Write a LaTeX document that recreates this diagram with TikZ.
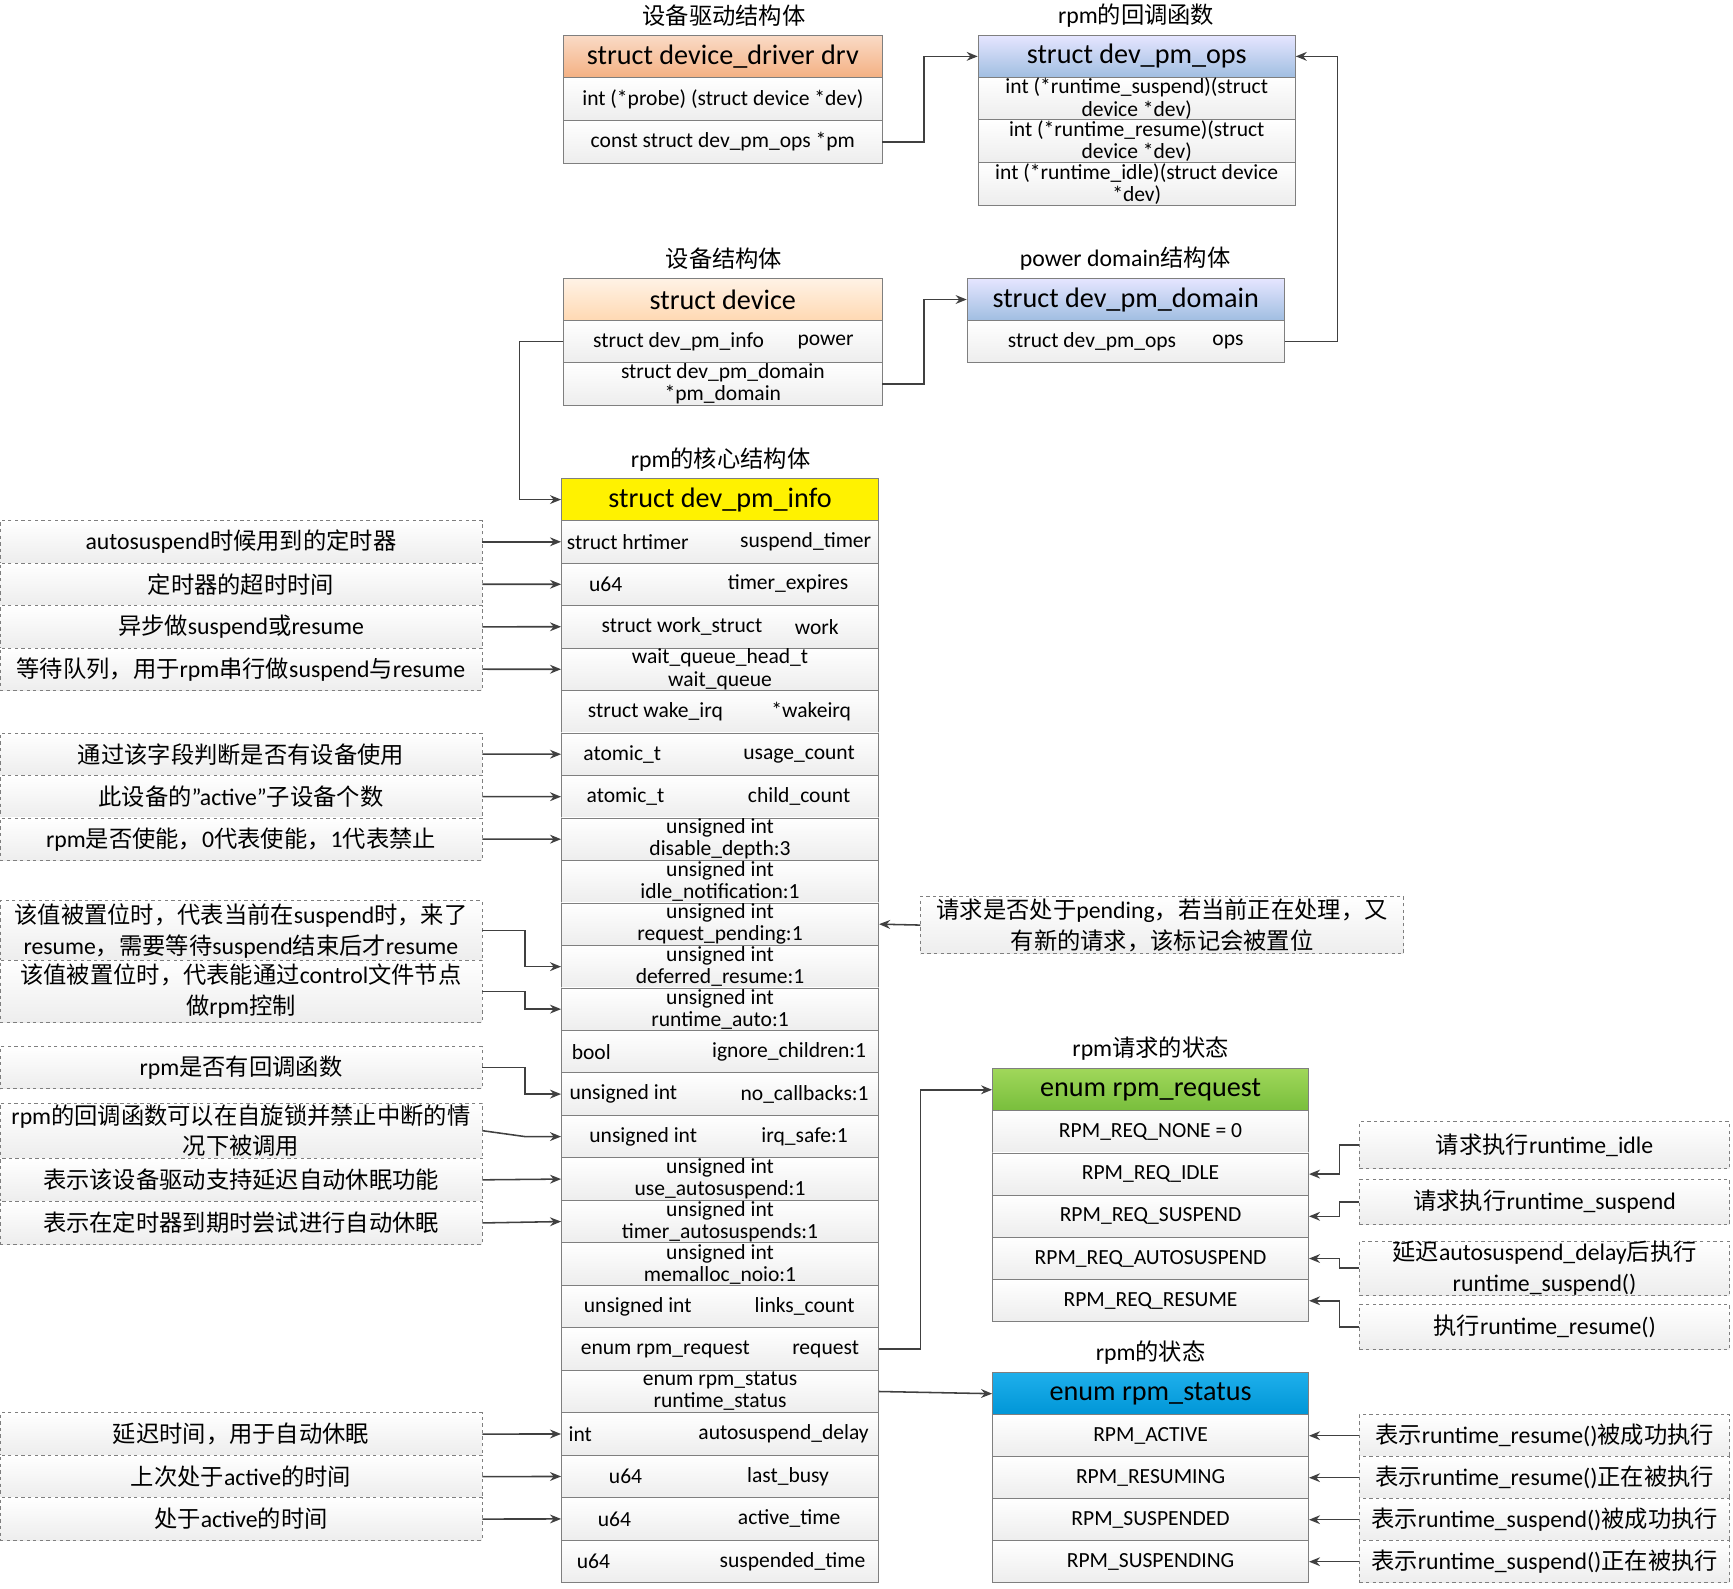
\documentclass[tikz,border=0pt]{standalone}
\usepackage{fontspec}
\setmainfont{Carlito}
\newfontfamily\cjk[Scale=0.98]{Noto Sans CJK SC}
\usetikzlibrary{arrows.meta}
\newcommand\zh[1]{{\cjk #1}}
\newcommand\fs{\fontsize{19.5}{20}\selectfont}
\newcommand\fsn{\fontsize{21.5}{28}\selectfont}
\definecolor{boxline}{HTML}{7F7F7F}
\definecolor{rowbot}{HTML}{EDEDED}
\definecolor{arr}{HTML}{404040}
\definecolor{drvtop}{HTML}{FADBC6}
\definecolor{drvbot}{HTML}{F4B183}
\tikzset{
 fld/.style={draw=boxline, top color=white, bottom color=rowbot, inner sep=0pt, font=\fs, align=center, line width=0.7pt},
 hdr/.style={draw=boxline, inner sep=0pt, font=\fontsize{25.5}{27}\selectfont, line width=0.7pt},
 ttl/.style={font=\fsn, inner sep=0pt},
 ftxt/.style={font=\fs, inner sep=0pt},
 note/.style={draw=boxline, dashed, top color=white, bottom color=rowbot, inner sep=0pt, font=\fsn, align=center, line width=0.7pt},
 ar/.style={-{Stealth[length=10pt,width=8pt]}, draw=arr, line width=1.4pt},
}
\newcommand\irow[5]{%
 \node[fld,minimum width=287pt,minimum height=38.44pt] (r#1) at (651.5,{490.2+38.44*#1}) {};
 \node[ftxt] at (#3,{490.2+38.44*#1}) {#2};
 \node[ftxt] at (#5,{490.2+38.44*#1}) {#4};}
\newcommand\irowii[3]{%
 \node[fld,minimum width=287pt,minimum height=38.44pt] (r#1) at (651.5,{490.2+38.44*#1}) {#2\\#3};}
\begin{document}
\begin{tikzpicture}[x=1pt,y=-1pt]
\useasboundingbox (0,0) rectangle (1568,1437);
% ---- device_driver
\node[ttl] (tdrv) at (655,14) {\zh{设备驱动结构体}};
\node[hdr, minimum width=288pt, minimum height=38pt, top color=drvtop, bottom color=drvbot] (drv) at (654,51) {struct device\_driver drv};
\node[fld, minimum width=288pt, minimum height=39pt] (drv1) at (654,89.5) {int (*probe) (struct device *dev)};
\node[fld, minimum width=288pt, minimum height=39pt] (drv2) at (654,128.5) {const struct dev\_pm\_ops *pm};
% ---- ops
\node[ttl] (tops) at (1028,14) {rpm\zh{的回调函数}};
\node[hdr, minimum width=287pt, minimum height=38pt, top color=blue!10, bottom color={rgb,255:red,160;green,190;blue,225}] (ops) at (1028.5,51) {struct dev\_pm\_ops};
\node[fld, minimum width=287pt, minimum height=38.5pt, font=\fontsize{19.5}{20}\selectfont] (ops1) at (1028.5,89.2) {int (*runtime\_suspend)(struct\\device *dev)};
\node[fld, minimum width=287pt, minimum height=38.5pt, font=\fontsize{19.5}{20}\selectfont] (ops2) at (1028.5,127.7) {int (*runtime\_resume)(struct\\device *dev)};
\node[fld, minimum width=287pt, minimum height=38.5pt, font=\fontsize{19.5}{20}\selectfont] (ops3) at (1028.5,166.2) {int (*runtime\_idle)(struct device\\*dev)};
% ---- device
\node[ttl] (tdev) at (655,234) {\zh{设备结构体}};
\node[hdr, minimum width=288pt, minimum height=38pt, top color=orange!10, bottom color=orange!30] (dev) at (654,271) {struct device};
\node[fld, minimum width=288pt, minimum height=38pt] (dev1) at (654,309) {};
\node[ftxt] at (614,309) {struct dev\_pm\_info};
\node[ftxt] at (747,309) {power};
\node[fld, minimum width=288pt, minimum height=39pt] (dev2) at (654,347.5) {struct dev\_pm\_domain\\*pm\_domain};
% ---- domain
\node[ttl] (tdom) at (1018,234) {power domain\zh{结构体}};
\node[hdr, minimum width=287pt, minimum height=38pt, top color=blue!10, bottom color={rgb,255:red,160;green,190;blue,225}] (dom) at (1018.5,271) {struct dev\_pm\_domain};
\node[fld, minimum width=287pt, minimum height=38pt] (dom1) at (1018.5,309) {};
\node[ftxt] at (988,309) {struct dev\_pm\_ops};
\node[ftxt] at (1111,309) {ops};
% ---- dev_pm_info
\node[ttl] (tinfo) at (652,416) {rpm\zh{的核心结构体}};
\node[hdr, minimum width=287pt, minimum height=38pt, fill=yellow] (info) at (651.5,452) {struct dev\_pm\_info};
\irow{0}{struct hrtimer}{568}{suspend\_timer}{729}
\irow{1}{u64}{548}{timer\_expires}{713}
\irow{2}{struct work\_struct}{617}{work}{739}
\irowii{3}{wait\_queue\_head\_t}{wait\_queue}
\irow{4}{struct wake\_irq}{593}{*wakeirq}{734}
\irow{5}{atomic\_t}{563}{usage\_count}{723}
\irow{6}{atomic\_t}{566}{child\_count}{723}
\irowii{7}{unsigned int}{disable\_depth:3}
\irowii{8}{unsigned int}{idle\_notification:1}
\irowii{9}{unsigned int}{request\_pending:1}
\irowii{10}{unsigned int}{deferred\_resume:1}
\irowii{11}{unsigned int}{runtime\_auto:1}
\irow{12}{bool}{535}{ignore\_children:1}{714}
\irow{13}{unsigned int}{564}{no\_callbacks:1}{728}
\irow{14}{unsigned int}{582}{irq\_safe:1}{728}
\irowii{15}{unsigned int}{use\_autosuspend:1}
\irowii{16}{unsigned int}{timer\_autosuspends:1}
\irowii{17}{unsigned int}{memalloc\_noio:1}
\irow{18}{unsigned int}{577}{links\_count}{728}
\irow{19}{enum rpm\_request}{602}{request}{747}
\irowii{20}{enum rpm\_status}{runtime\_status}
\irow{21}{int}{525}{autosuspend\_delay}{709}
\irow{22}{u64}{566}{last\_busy}{713}
\irow{23}{u64}{556}{active\_time}{714}
\irow{24}{u64}{537}{suspended\_time}{717}
% ---- request
\node[ttl] (treq) at (1041,949) {rpm\zh{请求的状态}};
\node[hdr, minimum width=286pt, minimum height=38pt, top color={rgb,255:red,160;green,215;blue,90}, bottom color={rgb,255:red,120;green,190;blue,60}] (req) at (1041,986) {enum rpm\_request};
\foreach \t [count=\i from 0] in {RPM\_REQ\_NONE = 0,RPM\_REQ\_IDLE,RPM\_REQ\_SUSPEND,RPM\_REQ\_AUTOSUSPEND,RPM\_REQ\_RESUME}
 \node[fld, minimum width=286pt, minimum height=38.2pt] (rq\i) at (1041,{1024.1+38.2*\i}) {\t};
% ---- status
\node[ttl] (tst) at (1041,1224) {rpm\zh{的状态}};
\node[hdr, minimum width=286pt, minimum height=38pt, top color={rgb,255:red,30;green,175;blue,235}, bottom color={rgb,255:red,0;green,150;blue,215}] (st) at (1041,1261) {enum rpm\_status};
\foreach \t [count=\i from 0] in {RPM\_ACTIVE,RPM\_RESUMING,RPM\_SUSPENDED,RPM\_SUSPENDING}
 \node[fld, minimum width=286pt, minimum height=38pt] (sq\i) at (1041,{1299+38*\i}) {\t};
% ---- structural connectors
\draw[ar] (drv2.east) -- (836,128.5) |- (ops.west);
\draw[ar] (dom1.east) -- (1210,309) |- (ops.east);
\draw[ar] (dev1.west) -- (470,309) |- (info.west);
\draw[ar] (dev2.east) -- (836,347.5) |- (dom.west);
\draw[ar] (r19.east) -- (833,{490.2+38.44*19}) |- (req.west);
\draw[ar] (r20.east) -- (st.west);
% ---- left notes
\newcommand\lnote[4]{\node[note, minimum width=436pt, minimum height=#3] (#1) at (218,#2) {#4};}
\lnote{n0}{490.2}{38.4pt}{autosuspend\zh{时候用到的定时器}}
\lnote{n1}{528.6}{38.4pt}{\zh{定时器的超时时间}}
\lnote{n2}{567.1}{38.4pt}{\zh{异步做}suspend\zh{或}resume}
\lnote{n3}{605.5}{38.4pt}{\zh{等待队列，用于}rpm\zh{串行做}suspend\zh{与}resume}
\lnote{n5}{682.4}{38.4pt}{\zh{通过该字段判断是否有设备使用}}
\lnote{n6}{720.8}{38.4pt}{\zh{此设备的}"active"\zh{子设备个数}}
\lnote{n7}{759.3}{38.4pt}{rpm\zh{是否使能，}0\zh{代表使能，}1\zh{代表禁止}}
\lnote{n10}{842}{54pt}{\zh{该值被置位时，代表当前在}suspend\zh{时，来了}\\resume\zh{，需要等待}suspend\zh{结束后才}resume}
\lnote{n11}{897}{56pt}{\zh{该值被置位时，代表能通过}control\zh{文件节点}\\\zh{做}rpm\zh{控制}}
\lnote{n13}{966}{38pt}{rpm\zh{是否有回调函数}}
\lnote{n14}{1023}{50pt}{rpm\zh{的回调函数可以在自旋锁并禁止中断的情}\\\zh{况下被调用}}
\lnote{n15}{1067.5}{39pt}{\zh{表示该设备驱动支持延迟自动休眠功能}}
\lnote{n16}{1106.5}{39pt}{\zh{表示在定时器到期时尝试进行自动休眠}}
\lnote{n21}{1297.5}{38.4pt}{\zh{延迟时间，用于自动休眠}}
\lnote{n22}{1336}{38.4pt}{\zh{上次处于}active\zh{的时间}}
\lnote{n23}{1374.4}{38.4pt}{\zh{处于}active\zh{的时间}}
\foreach \k in {0,1,2,3,5,6,7,15,16,21,22,23} \draw[ar] (n\k.east) -- (r\k.west);
\draw[ar] (n10.east) -- (475,842) |- (r10.west);
\draw[ar] (n11.east) -- (475,897) |- (r11.west);
\draw[ar] (n13.east) -- (475,966) |- (r13.west);
\draw[ar] (n14.east) -- (475,{490.2+38.44*14}) -- (r14.west);
% ---- pending note
\node[note, minimum width=437pt, minimum height=52pt] (pn) at (1051.5,837) {\zh{请求是否处于}pending\zh{，若当前正在处理，又}\\\zh{有新的请求，该标记会被置位}};
\draw[ar] (pn.west) -- (r9.east);
% ---- request notes
\node[note, minimum width=335pt, minimum height=42pt] (q1) at (1397.5,1036) {\zh{请求执行}runtime\_idle};
\node[note, minimum width=335pt, minimum height=41pt] (q2) at (1397.5,1087.5) {\zh{请求执行}runtime\_suspend};
\node[note, minimum width=335pt, minimum height=45pt] (q3) at (1397.5,1147.5) {\zh{延迟}autosuspend\_delay\zh{后执行}\\runtime\_suspend()};
\node[note, minimum width=335pt, minimum height=41pt] (q4) at (1397.5,1200.5) {\zh{执行}runtime\_resume()};
\draw[ar] (q1.west) -- (1212,1036) |- (rq1.east);
\draw[ar] (q2.west) -- (1212,1087.5) |- (rq2.east);
\draw[ar] (q3.west) -- (1212,1147.5) |- (rq3.east);
\draw[ar] (q4.west) -- (1212,1200.5) |- (rq4.east);
% ---- status notes
\node[note, minimum width=335pt, minimum height=38pt] (s0) at (1397.5,1299) {\zh{表示}runtime\_resume()\zh{被成功执行}};
\node[note, minimum width=335pt, minimum height=38pt] (s1) at (1397.5,1337) {\zh{表示}runtime\_resume()\zh{正在被执行}};
\node[note, minimum width=335pt, minimum height=38pt] (s2) at (1397.5,1375) {\zh{表示}runtime\_suspend()\zh{被成功执行}};
\node[note, minimum width=335pt, minimum height=38pt] (s3) at (1397.5,1413) {\zh{表示}runtime\_suspend()\zh{正在被执行}};
\foreach \k in {0,1,2,3} \draw[ar] (s\k.west) -- (sq\k.east);
\end{tikzpicture}
\end{document}
